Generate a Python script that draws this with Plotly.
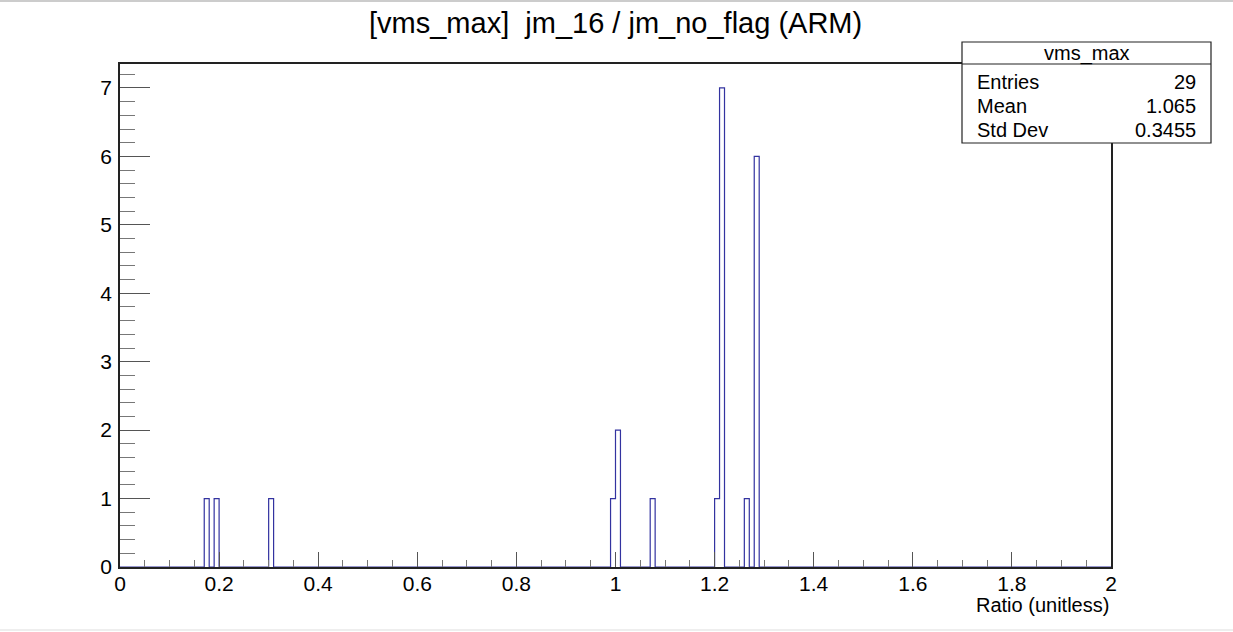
import numpy as np
import plotly.graph_objects as go

# histogram definition (200 bins on [0, 2])
n_bins = 200
x_min, x_max = 0.0, 2.0

# non-empty bins: low edge -> content
bin_low_edges = [0.17, 0.19, 0.30, 0.99, 1.00, 1.07, 1.20, 1.21, 1.26, 1.28]
bin_counts = [1, 1, 1, 1, 2, 1, 1, 7, 1, 6]

# stats box
stats_name = "vms_max"
stats_labels = ["Entries", "Mean", "Std Dev"]
stats_values = ["29", "1.065", "0.3455"]

title_text = "[vms_max]  jm_16 / jm_no_flag (ARM)"
x_title = "Ratio (unitless)"

FONT = "Liberation Sans, Arial, Helvetica, sans-serif"
LINE = "#3333a0"

width = (x_max - x_min) / n_bins
edges = x_min + width * np.arange(n_bins + 1)
contents = np.zeros(n_bins)
for lo, c in zip(bin_low_edges, bin_counts):
    contents[int(round((lo - x_min) / width))] = c
y_step = np.append(contents, contents[-1])

fig = go.Figure()
fig.add_trace(go.Scatter(
    x=edges, y=y_step, mode="lines", line_shape="hv",
    line=dict(color=LINE, width=1.2), showlegend=False,
    hoverinfo="skip",
))

y_top = max(bin_counts) * 1.05

axis_common = dict(
    showgrid=False, zeroline=False, showline=True, mirror=True,
    linecolor="#222", linewidth=1.5, ticks="inside", tickcolor="#555",
    tickfont=dict(family=FONT, size=21, color="#000"),
)

fig.update_layout(
    width=1233, height=632,
    margin=dict(l=120, r=122, t=64, b=65),
    paper_bgcolor="white", plot_bgcolor="white",
    font=dict(family=FONT, color="#000"),
    xaxis=dict(range=[x_min, x_max], dtick=0.2, ticklen=15,
               ticklabelstandoff=-3,
               minor=dict(dtick=0.05, ticklen=7, ticks="inside", tickcolor="#777"),
               **axis_common),
    yaxis=dict(range=[0, y_top], dtick=1, ticklen=30,
               ticklabelstandoff=2,
               minor=dict(dtick=0.2, ticklen=15, ticks="inside", tickcolor="#777"),
               **axis_common),
)

# title
fig.add_annotation(text=title_text, xref="paper", yref="paper", x=0.5, y=1,
                   xanchor="center", yshift=41, yanchor="middle", showarrow=False,
                   font=dict(family=FONT, size=29, color="#000"))
# x axis title
fig.add_annotation(text=x_title, xref="paper", yref="paper", x=1, y=0,
                   xanchor="right", yanchor="top", yshift=-25, showarrow=False,
                   font=dict(family=FONT, size=20, color="#000"))

# stats box
bx0, bx1 = (962 - 120) / 991, (1211 - 120) / 991
by0, by1 = (567 - 143) / 503, (567 - 42) / 503
sep = (567 - 64) / 503
fig.add_shape(type="rect", xref="paper", yref="paper", x0=bx0, x1=bx1, y0=by0, y1=by1,
              line=dict(color="#222", width=1.2), fillcolor="white", layer="above")
fig.add_shape(type="line", xref="paper", yref="paper", x0=bx0, x1=bx1, y0=sep, y1=sep,
              line=dict(color="#222", width=1.2))
fig.add_annotation(text=stats_name, xref="paper", yref="paper", x=(bx0 + bx1) / 2,
                   y=(567 - 53) / 503, showarrow=False, xanchor="center", yanchor="middle",
                   font=dict(family=FONT, size=20, color="#000"))
for i, (lab, val) in enumerate(zip(stats_labels, stats_values)):
    yy = (567 - (82 + 24 * i)) / 503
    fig.add_annotation(text=lab, xref="paper", yref="paper", x=(975 - 120) / 991, y=yy,
                       xanchor="left", yanchor="middle", showarrow=False,
                       font=dict(family=FONT, size=20, color="#000"))
    fig.add_annotation(text=val, xref="paper", yref="paper", x=(1198 - 120) / 991, y=yy,
                       xanchor="right", yanchor="middle", showarrow=False,
                       font=dict(family=FONT, size=20, color="#000"))

# page border lines seen in the screenshot
fig.add_shape(type="line", xref="paper", yref="paper", x0=-120 / 991, x1=1113 / 991,
              y0=566 / 503, y1=566 / 503, line=dict(color="#999", width=1))
fig.add_shape(type="line", xref="paper", yref="paper", x0=-120 / 991, x1=1113 / 991,
              y0=-63 / 503, y1=-63 / 503, line=dict(color="#ddd", width=1))

# drop the default body margin so the figure sits at the page origin
fig.write_html("out.html", config={"displayModeBar": False},
               post_script="document.body.style.margin='0px';")
